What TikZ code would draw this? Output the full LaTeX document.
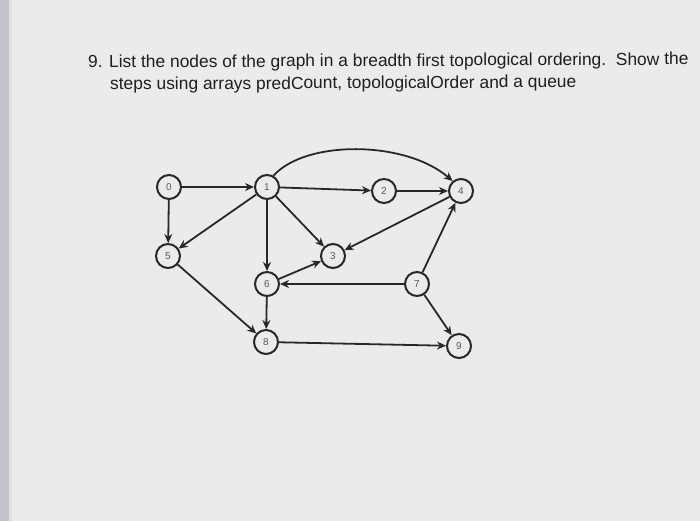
\documentclass[tikz,border=0pt]{standalone}
\usepackage{fontspec}
\setmainfont{Liberation Sans}
\usetikzlibrary{arrows.meta}
\definecolor{paper}{RGB}{234,236,236}
\definecolor{ink}{RGB}{30,30,32}
\definecolor{lineink}{RGB}{40,40,44}
\definecolor{strip}{RGB}{196,192,204}
\begin{document}
\begin{tikzpicture}[x=1pt,y=-1pt,
  vert/.style={circle, draw=lineink, line width=2pt, minimum size=24pt, inner sep=0pt,
    font=\fontsize{10}{10}\selectfont, text=black!65},
  edge/.style={-{Stealth[length=9pt,width=8pt]}, line width=1.8pt, draw=lineink},
  title/.style={anchor=base west, inner sep=0pt, text=ink, font=\fontsize{17.4}{20}\selectfont, rotate=0.3}]
\useasboundingbox (0,0) rectangle (700,521);
\fill[paper] (0,0) rectangle (700,521);
\fill[strip] (0,0) rectangle (9,521);
\fill[black!12] (9,0) rectangle (12,521);

\node[title] (t1) at (88,68) {9. List the nodes of the graph in a breadth first topological ordering.\ \ Show the};
\node[title] (t2) at (110,90) {steps using arrays predCount, topologicalOrder and a queue};

\node[vert] (n0) at (169,187) {0};
\node[vert] (n1) at (267,187) {1};
\node[vert] (n2) at (384,191) {2};
\node[vert] (n4) at (461,191) {4};
\node[vert] (n5) at (168,256) {5};
\node[vert] (n3) at (333,256) {3};
\node[vert] (n6) at (267,284) {6};
\node[vert] (n7) at (417,284) {7};
\node[vert] (n8) at (266,342) {8};
\node[vert] (n9) at (459,346) {9};

\draw[edge] (n0) -- (n1);
\draw[edge] (n0) -- (n5);
\draw[edge] (n1) -- (n2);
\draw[edge] (n2) -- (n4);
\draw[edge] (n1.60) .. controls (305,140) and (405,140) .. (n4.130);
\draw[edge] (n1) -- (n5);
\draw[edge] (n1) -- (n6);
\draw[edge] (n1) -- (n3);
\draw[edge] (n4) -- (n3);
\draw[edge] (n6) -- (n3);
\draw[edge] (n7) -- (n6);
\draw[edge] (n7) -- (n4);
\draw[edge] (n7) -- (n9);
\draw[edge] (n5) -- (n8);
\draw[edge] (n6) -- (n8);
\draw[edge] (n8) -- (n9);
\end{tikzpicture}
\end{document}
